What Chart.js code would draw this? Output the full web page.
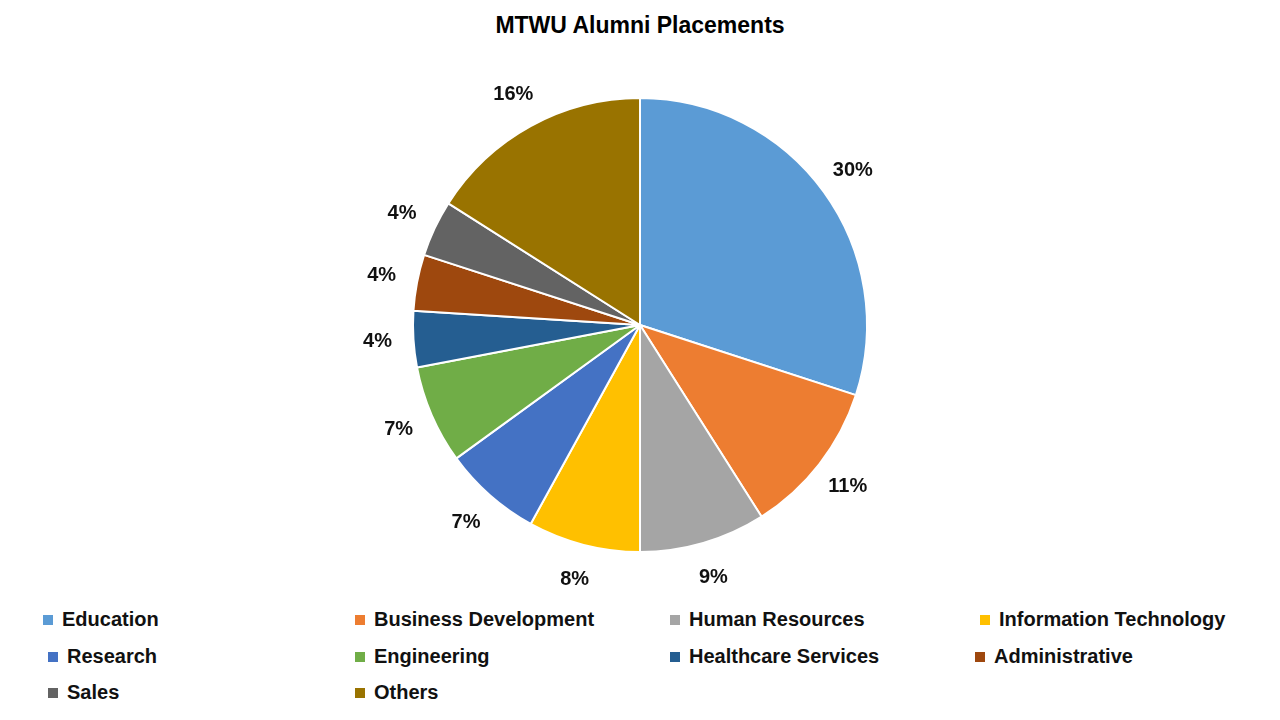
<!DOCTYPE html>
<html><head><meta charset="utf-8">
<script src="https://cdn.jsdelivr.net/npm/chart.js@4"></script>
<style>
body{margin:0;width:1280px;height:720px;background:#fff;font-family:"Liberation Sans",Arial,sans-serif;position:relative;overflow:hidden}
#t{position:absolute;top:12px;left:0;width:1280px;text-align:center;font-weight:bold;font-size:23px;color:#000}
#c{position:absolute;left:0;top:0}
.lg{position:absolute;font-size:20px;font-weight:bold;color:#111;display:flex;align-items:center;white-space:nowrap}
.lg span{display:inline-block;width:10px;height:10px;margin-right:9px}
</style></head><body>
<div id="t">MTWU Alumni Placements</div>
<canvas id="c" width="1280" height="600"></canvas>
<div id="leg"></div>
<script>
const categories=["Education","Business Development","Human Resources","Information Technology","Research","Engineering","Healthcare Services","Administrative","Sales","Others"];
const values=[30,11,9,8,7,7,4,4,4,16];
const colors=["#5b9bd5","#ed7d31","#a5a5a5","#ffc000","#4472c4","#70ad47","#255e91","#9e480e","#636363","#997300"];
const legPos=[[43,620],[355,620],[670,620],[980,620],[48,657],[355,657],[670,657],[975,657],[48,693],[355,693]];
const leg=document.getElementById('leg');
categories.forEach((c,i)=>{const d=document.createElement('div');d.className='lg';d.style.left=legPos[i][0]+'px';d.style.top=(legPos[i][1]-12)+'px';d.innerHTML='<span style="background:'+colors[i]+'"></span>'+c;leg.appendChild(d);});
const labelPlugin={id:'lbl',afterDatasetsDraw(ch){const ctx=ch.ctx;const meta=ch.getDatasetMeta(0);ctx.save();ctx.font='bold 20px "Liberation Sans",Arial';ctx.fillStyle='#111';ctx.textAlign='center';ctx.textBaseline='middle';
meta.data.forEach((a,i)=>{const m=(a.startAngle+a.endAngle)/2;const r=a.outerRadius+36;ctx.fillText(values[i]+'%',a.x+Math.cos(m)*r,a.y+Math.sin(m)*r);});ctx.restore();}};
new Chart(document.getElementById('c'),{type:'pie',data:{labels:categories,datasets:[{data:values,backgroundColor:colors,borderColor:'#fff',borderWidth:2}]},
options:{responsive:false,animation:false,layout:{padding:{top:97,bottom:47}},plugins:{legend:{display:false},tooltip:{enabled:false}}},plugins:[labelPlugin]});
</script></body></html>
